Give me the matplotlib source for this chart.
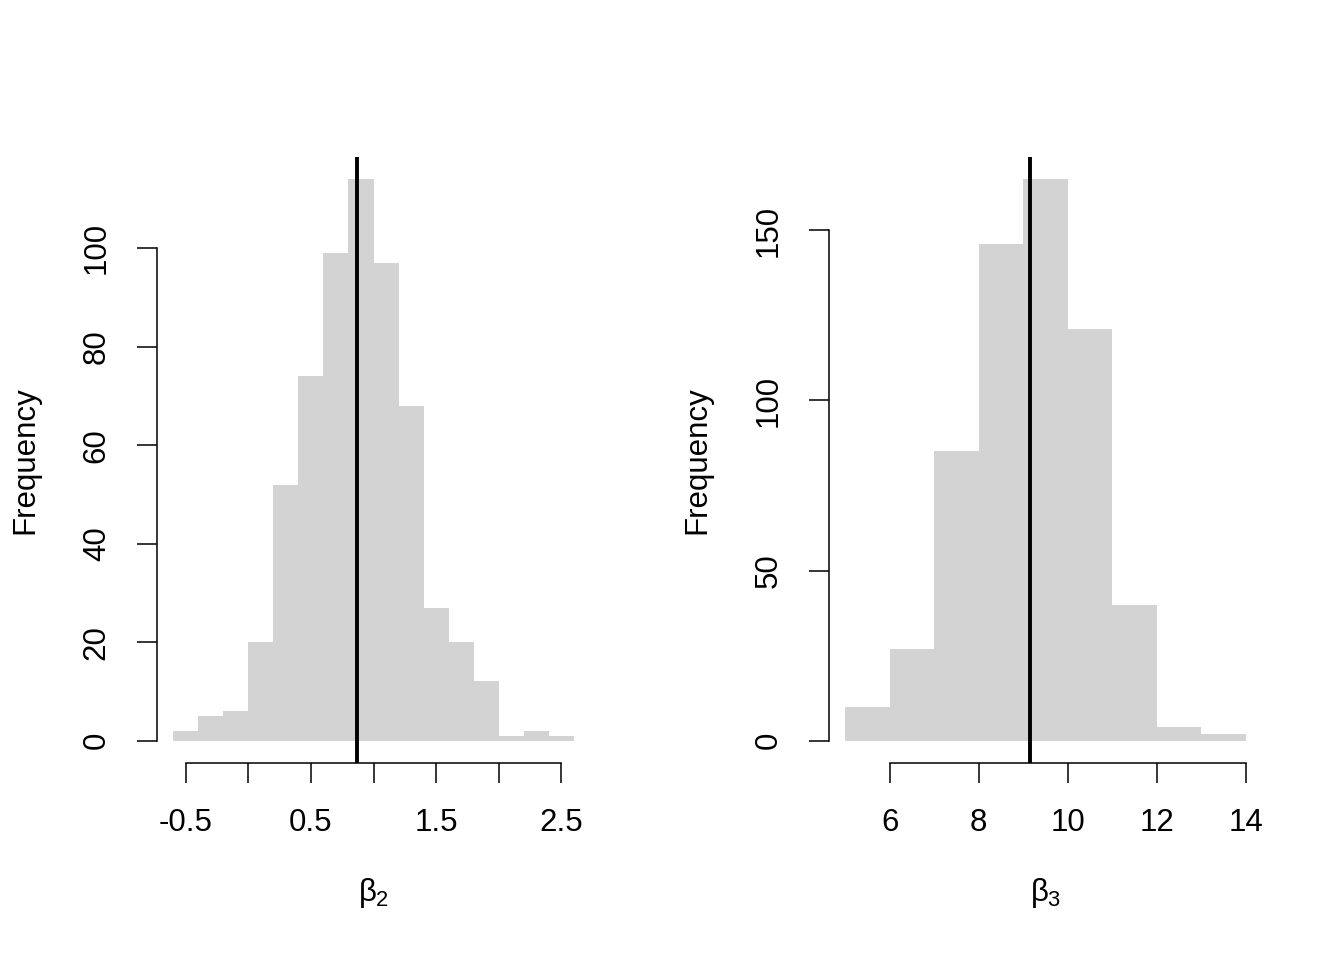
import matplotlib
matplotlib.use("Agg")
import matplotlib.pyplot as plt
import numpy as np

# histogram counts
b2_edges = np.round(np.arange(-0.6, 2.61, 0.2), 1)
b2_counts = [2, 5, 6, 20, 52, 74, 99, 114, 97, 68, 27, 20, 12, 1, 2, 1]
b2_line = 0.87
b2_xticks = [-0.5, 0, 0.5, 1, 1.5, 2, 2.5]
b2_xlabels = ["-0.5", "", "0.5", "", "1.5", "", "2.5"]
b2_yticks = [0, 20, 40, 60, 80, 100]

b3_edges = np.arange(5, 15, 1)
b3_counts = [10, 27, 85, 146, 165, 121, 40, 4, 2]
b3_line = 9.15
b3_xticks = [6, 8, 10, 12, 14]
b3_xlabels = ["6", "8", "10", "12", "14"]
b3_yticks = [0, 50, 100, 150]

plt.rcParams["font.family"] = ["Liberation Sans", "DejaVu Sans"]
plt.rcParams["mathtext.fontset"] = "custom"
plt.rcParams["mathtext.rm"] = "Liberation Sans"
plt.rcParams["mathtext.it"] = "Liberation Sans"

FS = 22.5
fig = plt.figure(figsize=(13.44, 9.6), dpi=100)


def panel(rect, edges, counts, vline, xticks, xlabels, yticks, xlab):
    ax = fig.add_axes(rect)
    edges = np.asarray(edges, dtype=float)
    ax.bar(edges[:-1], counts, width=np.diff(edges), align="edge",
           color="#d3d3d3", edgecolor="none", linewidth=0)
    # R style 4% padding
    xr = edges[-1] - edges[0]
    ax.set_xlim(edges[0] - 0.04 * xr, edges[-1] + 0.04 * xr)
    ym = max(counts)
    ax.set_ylim(-0.04 * ym, ym * 1.04)
    ax.axvline(vline, color="black", lw=2.8)
    for s in ["top", "right"]:
        ax.spines[s].set_visible(False)
    ax.spines["bottom"].set_bounds(xticks[0], xticks[-1])
    ax.spines["left"].set_bounds(yticks[0], yticks[-1])
    for s in ["bottom", "left"]:
        ax.spines[s].set_linewidth(1.1)
    ax.set_xticks(xticks)
    ax.set_xticklabels(xlabels)
    ax.set_yticks(yticks)
    ax.set_yticklabels([str(t) for t in yticks], rotation=90, va="center")
    ax.tick_params(length=14.5, width=1.1, pad=18, labelsize=FS)
    ax.set_xlabel(xlab, fontsize=FS)
    ax.xaxis.set_label_coords(0.5, -0.2145)
    ax.xaxis.label.set_va("center")
    ax.set_ylabel("Frequency", fontsize=FS)
    ax.yaxis.set_label_coords(-0.303, 0.5)
    ax.yaxis.label.set_va("center")
    ax.patch.set_alpha(0)
    return ax


panel([157 / 1344, 197 / 960, 433 / 1344, 606 / 960], b2_edges, b2_counts,
      b2_line, b2_xticks, b2_xlabels, b2_yticks, r"$\beta_2$")
panel([829 / 1344, 197 / 960, 433 / 1344, 606 / 960], b3_edges, b3_counts,
      b3_line, b3_xticks, b3_xlabels, b3_yticks, r"$\beta_3$")

fig.savefig("out.png", dpi=100)
